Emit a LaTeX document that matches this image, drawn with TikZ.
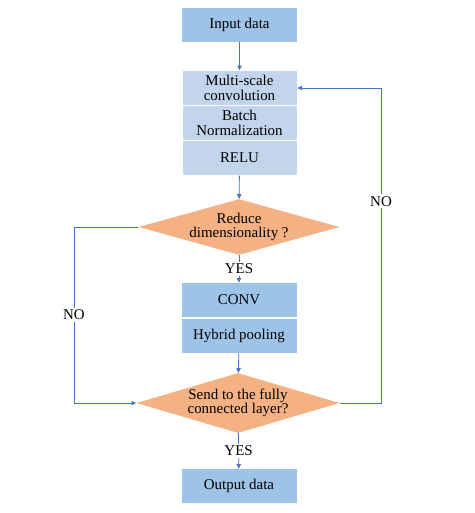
\documentclass[tikz,border=0pt]{standalone}
\usepackage{fontspec}
\setmainfont{Liberation Serif}
\usetikzlibrary{shapes.geometric,
        arrows.meta}
\usepackage{xcolor}
\definecolor{boxblue}{HTML}{9DC3E6}
\definecolor{paleblue}{HTML}{C3D5EC}
\definecolor{decorange}{HTML}{F4B183}
\definecolor{lineblue}{HTML}{4472C4}

\tikzset{
        stepbox/.style={rectangle, fill=boxblue, minimum width=86.25pt, minimum height=25.5pt, inner sep=0pt, align=center},
        subbox/.style={rectangle, fill=paleblue, draw=white, line width=0.6pt, minimum width=86.25pt, minimum height=26pt, inner sep=0pt, align=center},
        decision/.style={diamond, fill=decorange, inner sep=0pt, aspect=3.6, align=center},
        flow/.style={draw=lineblue, line width=0.6pt, -{Triangle[length=3.5pt,width=3.2pt]}},
        lbl/.style={fill=white, inner sep=1.5pt}
}

\begin{document}
\begin{tikzpicture}[x=0.75pt, y=-0.75pt, font=\fontsize{11.2}{11}\selectfont]
        \useasboundingbox (0,0) rectangle (474,513);

        \node [stepbox] (in) at (239.5,25) {Input data};
        \node [subbox] (ms) at (239.5,88) {Multi-scale\\convolution};
        \node [subbox] (bn) at (239.5,123) {Batch\\Normalization};
        \node [subbox] (relu) at (239.5,158) {RELU};
        \node [decision, minimum width=148.5pt, minimum height=37.5pt] (d1) at (239,227) {Reduce\\dimensionality ?};
        \node [stepbox] (conv) at (239,300) {CONV};
        \node [stepbox] (pool) at (239,336) {Hybrid pooling};
        \node [decision, minimum width=149pt, minimum height=45pt] (d2) at (238,403) {Send to the fully\\connected layer?};
        \node [stepbox] (out) at (239,486) {Output data};

        \coordinate (lft) at (74,227);
        \coordinate (rgt) at (381,403);

        \draw [flow] (in) -- (ms);
        \draw [flow] (relu) -- (d1);
        \draw [flow] (d1) -- node [lbl] {YES} (conv);
        \draw [flow] (pool) -- (d2);
        \draw [flow] (d2) -- node [lbl] {YES} (out);
        \draw [flow] (d1.west) -- (lft) -- node [lbl] {NO} (lft |- d2.west) -- (d2.west);
        \draw [flow] (d2.east) -- (rgt) -- node [lbl, pos=0.64] {NO} (rgt |- ms.east) -- (ms.east);
\end{tikzpicture}
\end{document}
